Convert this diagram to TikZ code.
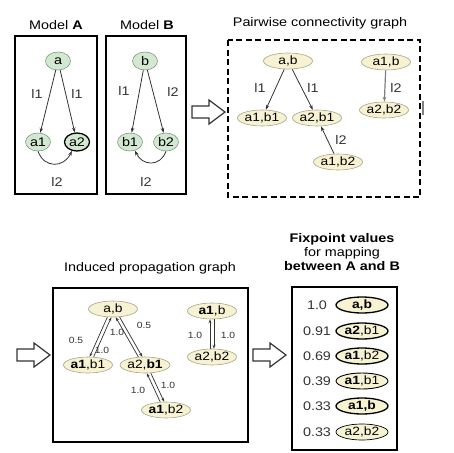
\documentclass[tikz,border=0pt]{standalone}
\usepackage{fontspec}
\setmainfont[FakeStretch=1.15]{Liberation Sans}
\usetikzlibrary{shapes.geometric,arrows.meta}
\definecolor{modelfill}{HTML}{D3E8D0}
\definecolor{modeldraw}{HTML}{7F9A7F}
\definecolor{pairfill}{HTML}{F6F2D2}
\definecolor{pairdraw}{HTML}{A8A48A}
\definecolor{inkgray}{HTML}{333333}

\begin{document}
\begin{tikzpicture}[
    x=1pt, y=1pt,
    mnode/.style={ellipse, draw=modeldraw, fill=modelfill, line width=0.6pt, inner sep=0pt,
      minimum width=25pt, minimum height=18pt, font=\fontsize{12.5}{12}\selectfont},
    pnode/.style={ellipse, draw=pairdraw, fill=pairfill, line width=0.6pt, inner sep=0pt,
      minimum width=49pt, minimum height=16pt, font=\fontsize{12}{12}\selectfont},
    boldrim/.style={draw=black, line width=1.3pt},
    frame/.style={draw=black, line width=2pt},
    rel/.style={-{Stealth[length=5pt,width=3.5pt]}, draw=inkgray, line width=0.8pt},
    prop/.style={-{Stealth[length=4pt,width=3pt]}, draw=inkgray, line width=0.7pt},
    lbl/.style={font=\fontsize{12.5}{12}\selectfont, text=inkgray},
    wlbl/.style={font=\fontsize{9}{9}\selectfont, text=inkgray},
    ttl/.style={font=\fontsize{12.5}{14}\selectfont, align=center},
    val/.style={font=\fontsize{12.5}{12}\selectfont, text=inkgray},
    bigarrow/.style={draw=inkgray, fill=white, line width=1.2pt, line join=miter},
  ]
  \useasboundingbox (0,0) rectangle (453,-453);

  % ---- model A
  \node[ttl] (ttlA) at (56,-25) {Model \textbf{A}};
  \draw[frame] (15,-36) rectangle (97,-194);
  \node[mnode] (a) at (58,-61) {a};
  \node[mnode] (a1) at (38,-142) {a1};
  \node[mnode, boldrim] (a2) at (77,-142) {a2};
  \draw[rel] (a) -- (a1);
  \draw[rel] (a) -- (a2);
  \draw[rel] (a1.south) to[out=-70,in=-115,looseness=1.4] (a2.-120);
  \node[lbl] (lA1) at (37,-94) {l1};
  \node[lbl] (lA2) at (77,-94) {l1};
  \node[lbl] (lA3) at (57,-182) {l2};

  % ---- model B
  \node[ttl] (ttlB) at (147,-25) {Model \textbf{B}};
  \draw[frame] (106,-36) rectangle (186,-194);
  \node[mnode] (b) at (145,-61) {b};
  \node[mnode] (b1) at (130,-142) {b1};
  \node[mnode] (b2) at (166,-142) {b2};
  \draw[rel] (b) -- (b1);
  \draw[rel] (b) -- (b2);
  \draw[rel] (b2.south) to[out=-110,in=-65,looseness=1.4] (b1.-60);
  \node[lbl] (lB1) at (124,-91) {l1};
  \node[lbl] (lB2) at (173,-92) {l2};
  \node[lbl] (lB3) at (146,-182) {l2};

  % hollow arrow, panel to panel
  \draw[bigarrow] (192,-106) -- ++(17,0) -- ++(0,6) -- ++(16,-12) -- ++(-16,-12)
    -- ++(0,6) -- ++(-17,0) -- cycle;

  % ---- pairwise connectivity graph
  \node[ttl] (ttlP) at (320,-23) {Pairwise connectivity graph};
  \draw[draw=black, line width=1.7pt, dash pattern=on 6pt off 3.5pt] (228,-40) rectangle (420,-197);
  \node[pnode] (pab) at (288,-61) {a,b};
  \node[pnode] (pa1b1) at (262,-118) {a1,b1};
  \node[pnode] (pa2b1) at (317,-118) {a2,b1};
  \node[pnode] (pa1b2) at (338,-162) {a1,b2};
  \node[pnode] (pa1b) at (386,-62) {a1,b};
  \node[pnode] (pa2b2) at (384,-110) {a2,b2};
  \draw[rel] (pab) -- (pa1b1);
  \draw[rel] (pab) -- (pa2b1);
  \draw[rel] (pa1b2) -- (pa2b1);
  \draw[rel, draw=gray, line width=1.2pt] (pa1b) -- (pa2b2);
  \node[lbl] (lP1) at (260,-88) {l1};
  \node[lbl] (lP2) at (313,-88) {l1};
  \node[lbl] (lP3) at (341,-140) {l2};
  \node[lbl] (lP4) at (396,-88) {l2};
  \draw[gray, line width=1.2pt] (423,-101) -- (423,-115);

  % ---- induced propagation graph
  \node[ttl] (ttlI) at (150,-268) {Induced propagation graph};
  \draw[bigarrow] (17,-349) -- ++(17,0) -- ++(0,6) -- ++(16,-12) -- ++(-16,-12)
    -- ++(0,6) -- ++(-17,0) -- cycle;
  \draw[frame] (53,-288) rectangle (248,-442);
  \node[pnode] (iab) at (113,-309) {a,b};
  \node[pnode] (ia1b1) at (88,-365) {\textbf{a1},b1};
  \node[pnode] (ia2b1) at (145,-365) {a2,\textbf{b1}};
  \node[pnode] (ia1b2) at (166,-410) {\textbf{a1},b2};
  \node[pnode] (ia1b) at (212,-311) {\textbf{a1},b};
  \node[pnode] (ia2b2) at (212,-357) {a2,b2};
  \draw[prop, transform canvas={xshift=-2pt}] (iab) -- (ia1b1);
  \draw[prop, transform canvas={xshift=2pt}] (ia1b1) -- (iab);
  \draw[prop, transform canvas={xshift=-2pt}] (ia2b1) -- (iab);
  \draw[prop, transform canvas={xshift=2pt}] (iab) -- (ia2b1);
  \draw[prop, transform canvas={xshift=-2pt}] (ia1b2) -- (ia2b1);
  \draw[prop, transform canvas={xshift=2pt}] (ia2b1) -- (ia1b2);
  \draw[prop, transform canvas={xshift=-2pt}] (ia2b2) -- (ia1b);
  \draw[prop, transform canvas={xshift=2pt}] (ia1b) -- (ia2b2);
  \node[wlbl] (w1) at (76,-340) {0.5};
  \node[wlbl] (w2) at (102,-350) {1.0};
  \node[wlbl] (w3) at (117,-332) {1.0};
  \node[wlbl] (w4) at (144,-325) {0.5};
  \node[wlbl] (w5) at (195,-335) {1.0};
  \node[wlbl] (w6) at (228,-335) {1.0};
  \node[wlbl] (w7) at (138,-390) {1.0};
  \node[wlbl] (w8) at (168,-385) {1.0};

  % ---- fixpoint values
  \node[ttl] (ttlF) at (342,-252)
    {\textbf{Fixpoint values}\\for mapping\\\textbf{between A and B}};
  \draw[bigarrow] (253,-349) -- ++(17,0) -- ++(0,6) -- ++(16,-12) -- ++(-16,-12)
    -- ++(0,6) -- ++(-17,0) -- cycle;
  \draw[frame] (292,-287) rectangle (397,-450);
  \node[val] (v1) at (317,-305) {1.0};
  \node[val] (v2) at (317,-331) {0.91};
  \node[val] (v3) at (317,-356) {0.69};
  \node[val] (v4) at (317,-381) {0.39};
  \node[val] (v5) at (317,-406) {0.33};
  \node[val] (v6) at (317,-432) {0.33};
  \node[pnode, boldrim, minimum width=52pt] (fab) at (362,-305) {\textbf{a,b}};
  \node[pnode, boldrim, minimum width=52pt] (fa2b1) at (362,-331) {\textbf{a2},b1};
  \node[pnode, boldrim, minimum width=52pt] (fa1b2) at (362,-356) {\textbf{a1},b2};
  \node[pnode, draw=black, line width=0.9pt, minimum width=52pt] (fa1b1) at (362,-381) {\textbf{a1},b1};
  \node[pnode, boldrim, minimum width=52pt] (fa1b) at (362,-406) {\textbf{a1,b}};
  \node[pnode, draw=black, line width=0.7pt, minimum width=52pt] (fa2b2) at (362,-432) {a2,b2};
\end{tikzpicture}
\end{document}
